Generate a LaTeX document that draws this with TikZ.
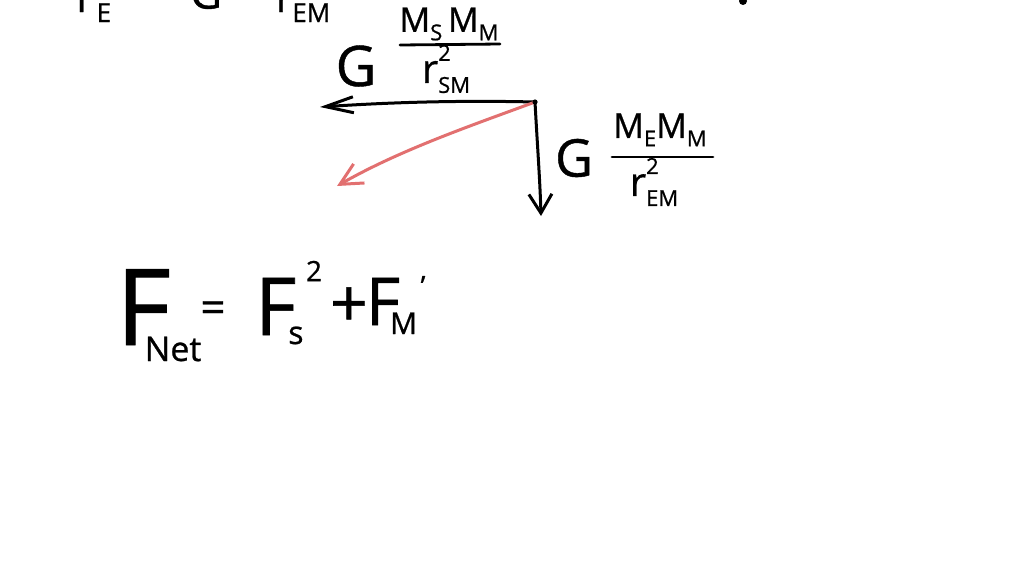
\documentclass[tikz,border=0pt]{standalone}
\usepackage{fontspec}
\setmainfont{Open Sans}[FakeBold=0.8]
\usetikzlibrary{arrows.meta}
\newcommand\fs[1]{\fontsize{#1}{#1}\selectfont}
\newcommand\lsub[2]{\raisebox{-0.25em}{\fs{#1}#2}}
\newcommand\lsup[2]{\raisebox{0.55em}{\fs{#1}#2}}
\begin{document}
\begin{tikzpicture}[x=1pt,y=-1pt,
  ink/.style={line width=3pt, line cap=round, line join=round, black},
  redink/.style={line width=3pt, line cap=round, line join=round, color=redpen},
  txt/.style={inner sep=0pt, outer sep=0pt, text=black},
  fracbar/.style={line width=2.8pt, line cap=round}]
\definecolor{redpen}{RGB}{226,112,112}
\useasboundingbox (0,0) rectangle (1024,576);
\clip (0,0) rectangle (1024,576);
\fill[white] (0,0) rectangle (1024,576);

% cut-off fragments at top
\node[txt, anchor=south west] (frE) at (76,22) {\fs{40}F\lsub{26}{E}};
\node[txt, anchor=south west] (frG) at (190,9) {\fs{44}G};
\node[txt, anchor=south west] (frr) at (276,22) {\fs{40}r\lsub{26}{EM}};
\fill (743,1) circle (4);

% point and arrows
\coordinate (O) at (535,102);
\coordinate (L) at (320,107);
\coordinate (D) at (541,216);
\coordinate (R) at (337,186);
\draw[ink, -{Straight Barb[length=28pt,width=16pt]}] (O) .. controls (450,100) and (380,103) .. (L);
\draw[ink, -{Straight Barb[length=19pt,width=23pt]}] (O) .. controls (537,140) and (540,180) .. (D);
\draw[redink, -{Straight Barb[length=22pt,width=22pt]}] (O) .. controls (470,126) and (400,150) .. (R);
\fill (O) circle (2.6);

% label of horizontal force
\node[txt] (G1) at (356,66) {\fs{56}G};
\node[txt] (n1) at (449,24) {\fs{34}M\lsub{22}{S}\,M\lsub{22}{M}};
\coordinate (b1a) at (400,45);
\coordinate (b1b) at (500,44);
\draw[fracbar] (b1a) -- (b1b);
\node[txt] (d1) at (446,69) {\fs{40}r\rlap{\lsup{22}{2}}\lsub{22}{SM}};

% label of vertical force
\node[txt] (G2) at (574,158) {\fs{52}G};
\node[txt] (n2) at (660,130) {\fs{34}M\lsub{22}{E}M\lsub{22}{M}};
\coordinate (b2a) at (612,157);
\coordinate (b2b) at (713,157);
\draw[fracbar] (b2a) -- (b2b);
\node[txt] (d2) at (654,182) {\fs{40}r\rlap{\lsup{22}{2}}\lsub{22}{EM}};

% equation
\node[txt, anchor=base west] (F) at (116,345) {\fs{106}F\kern-26pt\raisebox{-16pt}{\fs{34}Net}};
\node[txt] (eq) at (213,312) {\fs{44}=};
\node[txt, anchor=base west] (Fs) at (255,335) {\fs{80}F\kern-8pt\raisebox{-9pt}{\fs{32}s}};
\node[txt] (sq1) at (314,271) {\fs{28}2};
\node[txt] (plus) at (349,307) {\fs{66}+};
\node[txt, anchor=base west] (Fm) at (366,325) {\fs{66}F\kern-10pt\raisebox{-9pt}{\fs{30}M}};
\node[txt] (sq2) at (423,286) {\fs{28}'};
\end{tikzpicture}
\end{document}
